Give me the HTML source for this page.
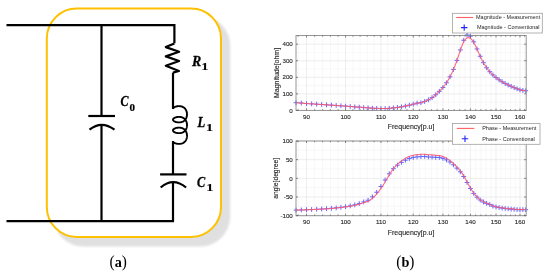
<!DOCTYPE html>
<html><head><meta charset="utf-8"><title>Figure</title>
<style>html,body{margin:0;padding:0;background:#fff;} svg{display:block;}</style>
</head><body>
<svg width="550" height="274" viewBox="0 0 550 274">
<rect width="550" height="274" fill="#fff"/>
<filter id="sh" x="-0.1" y="-0.1" width="1.2" height="1.2"><feGaussianBlur stdDeviation="0.85"/></filter>
<rect x="53.2" y="15.8" width="177.0" height="230.8" rx="30" fill="#e0e0e0" filter="url(#sh)"/>
<rect x="46.8" y="8.6" width="174.2" height="228.3" rx="30" fill="#fff" stroke="#ffc000" stroke-width="2"/>
<path d="M6.5 25.1 H174.4 V43.2" stroke="#000" stroke-width="2.2" fill="none" stroke-linejoin="miter"/>
<path d="M174.4 43.4 L165.8 47.1 L179.1 51.8 L165.8 56.4 L179.1 61 L165.8 65.7 L178.9 71 L173 72.6" stroke="#000" stroke-width="2.2" fill="none" stroke-linejoin="round"/>
<path d="M173.0 72.6 V108.90" stroke="#000" stroke-width="2.2" fill="none"/>
<path d="M173.00 108.90 L173.01 108.72 L173.06 108.54 L173.12 108.36 L173.22 108.18 L173.34 108.00 L173.49 107.83 L173.67 107.66 L173.87 107.50 L174.09 107.35 L174.34 107.19 L174.61 107.05 L174.90 106.92 L175.21 106.79 L175.54 106.67 L175.89 106.56 L176.25 106.46 L176.63 106.37 L177.03 106.30 L177.43 106.23 L177.84 106.19 L178.27 106.15 L178.70 106.13 L179.13 106.13 L179.57 106.15 L180.01 106.18 L180.45 106.23 L180.89 106.31 L181.32 106.40 L181.75 106.52 L182.17 106.66 L182.59 106.83 L182.99 107.02 L183.38 107.23 L183.76 107.48 L184.12 107.74 L184.47 108.04 L184.80 108.35 L185.11 108.70 L185.40 109.07 L185.67 109.46 L185.92 109.87 L186.14 110.31 L186.34 110.76 L186.51 111.23 L186.66 111.72 L186.78 112.22 L186.88 112.73 L186.95 113.25 L186.99 113.77 L187.00 114.30 L186.98 114.82 L186.94 115.35 L186.87 115.86 L186.78 116.37 L186.65 116.87 L186.50 117.36 L186.32 117.83 L186.12 118.28 L185.90 118.71 L185.65 119.13 L185.38 119.52 L185.09 119.88 L184.77 120.22 L184.44 120.54 L184.10 120.83 L183.73 121.10 L183.35 121.34 L182.96 121.55 L182.55 121.74 L182.14 121.90 L181.72 122.04 L181.29 122.16 L180.85 122.25 L180.41 122.32 L179.97 122.37 L179.53 122.41 L179.09 122.42 L178.66 122.42 L178.23 122.40 L177.81 122.36 L177.40 122.31 L176.99 122.25 L176.60 122.17 L176.22 122.08 L175.86 121.98 L175.51 121.87 L175.18 121.75 L174.88 121.62 L174.59 121.49 L174.32 121.34 L174.07 121.19 L173.85 121.03 L173.65 120.87 L173.48 120.70 L173.33 120.53 L173.21 120.36 L173.12 120.18 L173.05 120.00 L173.01 119.82 L173.00 119.63 L173.02 119.45 L173.06 119.27 L173.13 119.09 L173.23 118.91 L173.35 118.74 L173.51 118.57 L173.68 118.40 L173.89 118.24 L174.11 118.08 L174.36 117.93 L174.63 117.79 L174.93 117.65 L175.24 117.53 L175.57 117.41 L175.92 117.30 L176.29 117.20 L176.67 117.12 L177.06 117.04 L177.46 116.98 L177.88 116.93 L178.30 116.90 L178.73 116.88 L179.17 116.88 L179.61 116.90 L180.05 116.93 L180.49 116.99 L180.92 117.06 L181.36 117.16 L181.79 117.28 L182.21 117.42 L182.62 117.59 L183.02 117.79 L183.41 118.00 L183.79 118.25 L184.15 118.52 L184.50 118.81 L184.83 119.13 L185.14 119.48 L185.43 119.85 L185.69 120.24 L185.94 120.66 L186.16 121.09 L186.36 121.55 L186.53 122.02 L186.67 122.51 L186.79 123.01 L186.89 123.52 L186.95 124.04 L186.99 124.56 L187.00 125.09 L186.98 125.62 L186.94 126.14 L186.87 126.66 L186.77 127.17 L186.64 127.66 L186.49 128.15 L186.31 128.62 L186.11 129.07 L185.88 129.50 L185.63 129.91 L185.36 130.30 L185.06 130.66 L184.75 131.00 L184.42 131.31 L184.07 131.60 L183.70 131.87 L183.32 132.10 L182.92 132.32 L182.52 132.50 L182.10 132.66 L181.68 132.80 L181.25 132.92 L180.81 133.01 L180.38 133.08 L179.94 133.13 L179.50 133.16 L179.06 133.17 L178.62 133.17 L178.20 133.14 L177.77 133.11 L177.36 133.06 L176.96 132.99 L176.57 132.91 L176.19 132.82 L175.83 132.72 L175.49 132.61 L175.16 132.49 L174.85 132.36 L174.56 132.23 L174.30 132.08 L174.05 131.93 L173.83 131.77 L173.64 131.61 L173.47 131.44 L173.32 131.27 L173.20 131.09 L173.11 130.91 L173.05 130.73 L173.01 130.55 L173.00 130.37 L173.02 130.19 L173.06 130.01 L173.14 129.83 L173.24 129.65 L173.37 129.47 L173.52 129.30 L173.70 129.14 L173.90 128.98 L174.13 128.82 L174.38 128.67 L174.66 128.53 L174.95 128.39 L175.27 128.27 L175.60 128.15 L175.95 128.04 L176.32 127.95 L176.70 127.86 L177.09 127.79 L177.50 127.73 L177.91 127.68 L178.34 127.65 L178.77 127.63 L179.20 127.63 L179.64 127.65 L180.08 127.69 L180.52 127.74 L180.96 127.82 L181.39 127.92 L181.82 128.04 L182.24 128.19 L182.66 128.36 L183.06 128.55 L183.45 128.77 L183.82 129.02 L184.18 129.29 L184.53 129.59 L184.85 129.91 L185.16 130.26 L185.45 130.63 L185.71 131.03 L185.96 131.44 L186.18 131.88 L186.37 132.34 L186.54 132.81 L186.68 133.30 L186.80 133.80 L186.89 134.31 L186.96 134.83 L186.99 135.36 L187.00 135.88 L186.98 136.41 L186.93 136.93 L186.86 137.45 L186.76 137.96 L186.63 138.45 L186.47 138.94 L186.29 139.40 L186.09 139.85 L185.86 140.28 L185.61 140.69 L185.33 141.08 L185.04 141.44 L184.72 141.78 L184.39 142.09 L184.04 142.38 L183.67 142.64 L183.29 142.87 L182.89 143.08 L182.48 143.27 L182.07 143.43 L181.64 143.56 L181.21 143.67 L180.78 143.76 L180.34 143.83 L179.90 143.88 L179.46 143.91 L179.02 143.92 L178.59 143.91 L178.16 143.89 L177.74 143.85 L177.33 143.80 L176.93 143.73 L176.54 143.66 L176.16 143.57 L175.80 143.46 L175.46 143.35 L175.13 143.23 L174.83 143.10 L174.54 142.96 L174.28 142.82 L174.03 142.67 L173.81 142.51 L173.62 142.34 L173.45 142.18 L173.31 142.00 L173.19 141.83 L173.10 141.65 L173.04 141.47 L173.01 141.29 L173.00 141.15" stroke="#000" stroke-width="1.9" fill="none" stroke-linejoin="round"/>
<path d="M173.0 141.15 V174" stroke="#000" stroke-width="2.2" fill="none"/>
<path d="M160.1 174.4 H186.5" stroke="#000" stroke-width="2.2" fill="none"/>
<path d="M160.7 187.5 Q173.0 176.7 186.1 187.5" stroke="#000" stroke-width="2.2" fill="none"/>
<path d="M173.0 182.1 V221.2 H6.5" stroke="#000" stroke-width="2.2" fill="none"/>
<path d="M101.5 25.1 V116" stroke="#000" stroke-width="2.2" fill="none"/>
<path d="M88.3 116 H115" stroke="#000" stroke-width="2.2" fill="none"/>
<path d="M89.5 129.7 Q101.5 119.9 114.5 129.7" stroke="#000" stroke-width="2.2" fill="none"/>
<path d="M101.5 124.8 V221.2" stroke="#000" stroke-width="2.2" fill="none"/>
<text transform="translate(120.4 106.0) scale(0.88 1)" font-family="Liberation Serif, serif" font-weight="bold" font-size="13.6" font-style="italic" stroke="#000" stroke-width="0.3">C</text><text transform="translate(129.6 110.6) scale(1.0 1)" font-family="Liberation Serif, serif" font-weight="bold" font-size="11" stroke="#000" stroke-width="0.2">0</text>
<text transform="translate(191.9 65.8) scale(1.0 1)" font-family="Liberation Serif, serif" font-weight="bold" font-size="13.8" font-style="italic" stroke="#000" stroke-width="0.3">R</text><text transform="translate(201.6 69.8) scale(1.22 1)" font-family="Liberation Serif, serif" font-weight="bold" font-size="11" stroke="#000" stroke-width="0.2">1</text>
<text transform="translate(197.6 127.4) scale(0.9 1)" font-family="Liberation Serif, serif" font-weight="bold" font-size="14" font-style="italic" stroke="#000" stroke-width="0.3">L</text><text transform="translate(206.3 130.8) scale(1.22 1)" font-family="Liberation Serif, serif" font-weight="bold" font-size="11" stroke="#000" stroke-width="0.2">1</text>
<text transform="translate(197.1 187.2) scale(0.88 1)" font-family="Liberation Serif, serif" font-weight="bold" font-size="14.0" font-style="italic" stroke="#000" stroke-width="0.3">C</text><text transform="translate(206.5 190.8) scale(1.22 1)" font-family="Liberation Serif, serif" font-weight="bold" font-size="11" stroke="#000" stroke-width="0.2">1</text>
<text x="118.2" y="266.6" font-family="Liberation Serif, serif" font-size="15" text-anchor="middle" transform="translate(118.2 0) scale(0.95 1) translate(-118.2 0)"><tspan font-size="16.2" dy="0.2">(</tspan><tspan font-weight="bold" dy="-0.2">a</tspan><tspan font-size="16.2" dy="0.2">)</tspan></text>
<text x="405.4" y="266.6" font-family="Liberation Serif, serif" font-size="15" text-anchor="middle" transform="translate(405.4 0) scale(0.95 1) translate(-405.4 0)"><tspan font-size="16.2" dy="0.2">(</tspan><tspan font-weight="bold" dy="-0.2">b</tspan><tspan font-size="16.2" dy="0.2">)</tspan></text>
<clipPath id="clip35"><rect x="296.0" y="35.5" width="230.20000000000005" height="74.9"/></clipPath>
<line x1="298.16" y1="35.5" x2="298.16" y2="110.4" stroke="#f3f3f3" stroke-width="0.6"/>
<line x1="314.65" y1="35.5" x2="314.65" y2="110.4" stroke="#f3f3f3" stroke-width="0.6"/>
<line x1="322.63" y1="35.5" x2="322.63" y2="110.4" stroke="#f3f3f3" stroke-width="0.6"/>
<line x1="330.44" y1="35.5" x2="330.44" y2="110.4" stroke="#f3f3f3" stroke-width="0.6"/>
<line x1="338.09" y1="35.5" x2="338.09" y2="110.4" stroke="#f3f3f3" stroke-width="0.6"/>
<line x1="352.94" y1="35.5" x2="352.94" y2="110.4" stroke="#f3f3f3" stroke-width="0.6"/>
<line x1="360.14" y1="35.5" x2="360.14" y2="110.4" stroke="#f3f3f3" stroke-width="0.6"/>
<line x1="367.21" y1="35.5" x2="367.21" y2="110.4" stroke="#f3f3f3" stroke-width="0.6"/>
<line x1="374.14" y1="35.5" x2="374.14" y2="110.4" stroke="#f3f3f3" stroke-width="0.6"/>
<line x1="387.63" y1="35.5" x2="387.63" y2="110.4" stroke="#f3f3f3" stroke-width="0.6"/>
<line x1="394.20" y1="35.5" x2="394.20" y2="110.4" stroke="#f3f3f3" stroke-width="0.6"/>
<line x1="400.65" y1="35.5" x2="400.65" y2="110.4" stroke="#f3f3f3" stroke-width="0.6"/>
<line x1="406.99" y1="35.5" x2="406.99" y2="110.4" stroke="#f3f3f3" stroke-width="0.6"/>
<line x1="419.36" y1="35.5" x2="419.36" y2="110.4" stroke="#f3f3f3" stroke-width="0.6"/>
<line x1="425.40" y1="35.5" x2="425.40" y2="110.4" stroke="#f3f3f3" stroke-width="0.6"/>
<line x1="431.33" y1="35.5" x2="431.33" y2="110.4" stroke="#f3f3f3" stroke-width="0.6"/>
<line x1="437.17" y1="35.5" x2="437.17" y2="110.4" stroke="#f3f3f3" stroke-width="0.6"/>
<line x1="448.59" y1="35.5" x2="448.59" y2="110.4" stroke="#f3f3f3" stroke-width="0.6"/>
<line x1="454.17" y1="35.5" x2="454.17" y2="110.4" stroke="#f3f3f3" stroke-width="0.6"/>
<line x1="459.67" y1="35.5" x2="459.67" y2="110.4" stroke="#f3f3f3" stroke-width="0.6"/>
<line x1="465.08" y1="35.5" x2="465.08" y2="110.4" stroke="#f3f3f3" stroke-width="0.6"/>
<line x1="475.68" y1="35.5" x2="475.68" y2="110.4" stroke="#f3f3f3" stroke-width="0.6"/>
<line x1="480.87" y1="35.5" x2="480.87" y2="110.4" stroke="#f3f3f3" stroke-width="0.6"/>
<line x1="485.99" y1="35.5" x2="485.99" y2="110.4" stroke="#f3f3f3" stroke-width="0.6"/>
<line x1="491.04" y1="35.5" x2="491.04" y2="110.4" stroke="#f3f3f3" stroke-width="0.6"/>
<line x1="500.93" y1="35.5" x2="500.93" y2="110.4" stroke="#f3f3f3" stroke-width="0.6"/>
<line x1="505.78" y1="35.5" x2="505.78" y2="110.4" stroke="#f3f3f3" stroke-width="0.6"/>
<line x1="510.57" y1="35.5" x2="510.57" y2="110.4" stroke="#f3f3f3" stroke-width="0.6"/>
<line x1="515.29" y1="35.5" x2="515.29" y2="110.4" stroke="#f3f3f3" stroke-width="0.6"/>
<line x1="524.57" y1="35.5" x2="524.57" y2="110.4" stroke="#f3f3f3" stroke-width="0.6"/>
<line x1="296.0" y1="102.12" x2="526.2" y2="102.12" stroke="#f3f3f3" stroke-width="0.6"/>
<line x1="296.0" y1="85.58" x2="526.2" y2="85.58" stroke="#f3f3f3" stroke-width="0.6"/>
<line x1="296.0" y1="69.03" x2="526.2" y2="69.03" stroke="#f3f3f3" stroke-width="0.6"/>
<line x1="296.0" y1="52.48" x2="526.2" y2="52.48" stroke="#f3f3f3" stroke-width="0.6"/>
<line x1="296.0" y1="35.92" x2="526.2" y2="35.92" stroke="#f3f3f3" stroke-width="0.6"/>
<line x1="306.50" y1="35.5" x2="306.50" y2="110.4" stroke="#e6e6e6" stroke-width="0.7"/>
<line x1="345.59" y1="35.5" x2="345.59" y2="110.4" stroke="#e6e6e6" stroke-width="0.7"/>
<line x1="380.95" y1="35.5" x2="380.95" y2="110.4" stroke="#e6e6e6" stroke-width="0.7"/>
<line x1="413.23" y1="35.5" x2="413.23" y2="110.4" stroke="#e6e6e6" stroke-width="0.7"/>
<line x1="442.93" y1="35.5" x2="442.93" y2="110.4" stroke="#e6e6e6" stroke-width="0.7"/>
<line x1="470.42" y1="35.5" x2="470.42" y2="110.4" stroke="#e6e6e6" stroke-width="0.7"/>
<line x1="496.02" y1="35.5" x2="496.02" y2="110.4" stroke="#e6e6e6" stroke-width="0.7"/>
<line x1="519.96" y1="35.5" x2="519.96" y2="110.4" stroke="#e6e6e6" stroke-width="0.7"/>
<line x1="296.0" y1="110.40" x2="526.2" y2="110.40" stroke="#e6e6e6" stroke-width="0.7"/>
<line x1="296.0" y1="93.85" x2="526.2" y2="93.85" stroke="#e6e6e6" stroke-width="0.7"/>
<line x1="296.0" y1="77.30" x2="526.2" y2="77.30" stroke="#e6e6e6" stroke-width="0.7"/>
<line x1="296.0" y1="60.75" x2="526.2" y2="60.75" stroke="#e6e6e6" stroke-width="0.7"/>
<line x1="296.0" y1="44.20" x2="526.2" y2="44.20" stroke="#e6e6e6" stroke-width="0.7"/>
<path d="M293.65 102.70h4.8M296.05 100.30v4.8M298.91 103.04h4.8M301.31 100.64v4.8M304.10 103.54h4.8M306.50 101.14v4.8M309.22 103.87h4.8M311.62 101.47v4.8M314.27 104.19h4.8M316.67 101.79v4.8M319.24 104.50h4.8M321.64 102.10v4.8M324.16 104.82h4.8M326.56 102.42v4.8M329.01 105.14h4.8M331.41 102.74v4.8M333.80 105.47h4.8M336.20 103.07v4.8M338.52 105.80h4.8M340.92 103.40v4.8M343.19 106.14h4.8M345.59 103.74v4.8M347.80 106.49h4.8M350.20 104.09v4.8M352.35 106.83h4.8M354.75 104.43v4.8M356.85 107.18h4.8M359.25 104.78v4.8M361.29 107.53h4.8M363.69 105.13v4.8M365.68 107.86h4.8M368.08 105.46v4.8M370.02 108.16h4.8M372.42 105.76v4.8M374.31 108.40h4.8M376.71 106.00v4.8M378.55 108.52h4.8M380.95 106.12v4.8M382.74 108.50h4.8M385.14 106.10v4.8M386.89 108.30h4.8M389.29 105.90v4.8M390.99 107.95h4.8M393.39 105.55v4.8M395.04 107.43h4.8M397.44 105.03v4.8M399.05 106.80h4.8M401.45 104.40v4.8M403.02 106.04h4.8M405.42 103.64v4.8M406.95 105.18h4.8M409.35 102.78v4.8M410.83 104.19h4.8M413.23 101.79v4.8M414.67 103.14h4.8M417.07 100.74v4.8M418.48 102.78h4.8M420.88 100.38v4.8M422.25 101.46h4.8M424.65 99.06v4.8M425.98 99.84h4.8M428.38 97.44v4.8M429.67 97.62h4.8M432.07 95.22v4.8M433.32 94.74h4.8M435.72 92.34v4.8M436.94 91.34h4.8M439.34 88.94v4.8M440.53 87.47h4.8M442.93 85.07v4.8M444.08 82.79h4.8M446.48 80.39v4.8M447.59 76.80h4.8M449.99 74.40v4.8M451.08 69.41h4.8M453.48 67.01v4.8M454.53 60.42h4.8M456.93 58.02v4.8M457.95 49.96h4.8M460.35 47.56v4.8M461.34 40.26h4.8M463.74 37.86v4.8M464.69 34.97h4.8M467.09 32.57v4.8M468.02 36.16h4.8M470.42 33.76v4.8M471.32 41.84h4.8M473.72 39.44v4.8M474.59 48.94h4.8M476.99 46.54v4.8M477.83 56.28h4.8M480.23 53.88v4.8M481.04 62.69h4.8M483.44 60.29v4.8M484.22 67.76h4.8M486.62 65.36v4.8M487.38 71.71h4.8M489.78 69.31v4.8M490.51 74.91h4.8M492.91 72.51v4.8M493.62 77.53h4.8M496.02 75.13v4.8M496.70 79.79h4.8M499.10 77.39v4.8M499.75 81.79h4.8M502.15 79.39v4.8M502.78 83.52h4.8M505.18 81.12v4.8M505.78 84.96h4.8M508.18 82.56v4.8M508.76 86.32h4.8M511.16 83.92v4.8M511.72 87.65h4.8M514.12 85.25v4.8M514.65 88.82h4.8M517.05 86.42v4.8M517.56 89.86h4.8M519.96 87.46v4.8M520.45 90.40h4.8M522.85 88.00v4.8M523.31 90.74h4.8M525.71 88.34v4.8" stroke="#6060ff" stroke-width="0.95" fill="none"/>
<g clip-path="url(#clip35)">
<path d="M296.05 102.70 L296.58 102.74 L297.11 102.77 L297.64 102.80 L298.17 102.83 L298.70 102.86 L299.22 102.89 L299.75 102.93 L300.28 102.96 L300.80 102.99 L301.33 103.04 L301.85 103.11 L302.37 103.17 L302.90 103.23 L303.42 103.28 L303.94 103.33 L304.46 103.38 L304.98 103.43 L305.50 103.47 L306.01 103.51 L306.53 103.55 L307.05 103.58 L307.56 103.62 L308.08 103.65 L308.59 103.68 L309.11 103.72 L309.62 103.75 L310.13 103.78 L310.64 103.81 L311.15 103.84 L311.66 103.88 L312.17 103.91 L312.68 103.94 L313.19 103.97 L313.70 104.00 L314.20 104.03 L314.71 104.06 L315.21 104.09 L315.72 104.13 L316.22 104.16 L316.73 104.19 L317.23 104.22 L317.73 104.25 L318.23 104.28 L318.73 104.32 L319.23 104.35 L319.73 104.38 L320.23 104.41 L320.73 104.44 L321.22 104.47 L321.72 104.51 L322.21 104.54 L322.71 104.57 L323.20 104.60 L323.70 104.63 L324.19 104.66 L324.68 104.70 L325.18 104.73 L325.67 104.76 L326.16 104.79 L326.65 104.83 L327.14 104.86 L327.62 104.89 L328.11 104.92 L328.60 104.95 L329.09 104.99 L329.57 105.02 L330.06 105.05 L330.54 105.08 L331.03 105.12 L331.51 105.15 L331.99 105.18 L332.48 105.22 L332.96 105.25 L333.44 105.28 L333.92 105.31 L334.40 105.35 L334.88 105.38 L335.36 105.41 L335.83 105.45 L336.31 105.48 L336.79 105.51 L337.26 105.55 L337.74 105.58 L338.21 105.61 L338.69 105.65 L339.16 105.68 L339.63 105.71 L340.11 105.75 L340.58 105.78 L341.05 105.81 L341.52 105.85 L341.99 105.88 L342.46 105.92 L342.93 105.95 L343.40 105.98 L343.86 106.02 L344.33 106.05 L344.80 106.09 L345.26 106.12 L345.73 106.15 L346.19 106.19 L346.66 106.22 L347.12 106.26 L347.58 106.29 L348.05 106.33 L348.51 106.36 L348.97 106.39 L349.43 106.43 L349.89 106.46 L350.35 106.50 L350.81 106.53 L351.27 106.57 L351.72 106.60 L352.18 106.64 L352.64 106.67 L353.09 106.71 L353.55 106.74 L354.00 106.78 L354.46 106.81 L354.91 106.85 L355.37 106.88 L355.82 106.92 L356.27 106.95 L356.72 106.99 L357.17 107.02 L357.62 107.06 L358.07 107.09 L358.52 107.13 L358.97 107.16 L359.42 107.19 L359.87 107.23 L360.32 107.26 L360.76 107.30 L361.21 107.33 L361.66 107.37 L362.10 107.40 L362.54 107.44 L362.99 107.47 L363.43 107.51 L363.88 107.54 L364.32 107.57 L364.76 107.61 L365.20 107.64 L365.64 107.67 L366.08 107.71 L366.52 107.74 L366.96 107.77 L367.40 107.81 L367.84 107.84 L368.28 107.87 L368.71 107.90 L369.15 107.93 L369.59 107.97 L370.02 108.00 L370.46 108.03 L370.89 108.06 L371.33 108.09 L371.76 108.11 L372.19 108.14 L372.63 108.17 L373.06 108.20 L373.49 108.22 L373.92 108.25 L374.35 108.28 L374.78 108.30 L375.21 108.32 L375.64 108.35 L376.07 108.37 L376.50 108.39 L376.93 108.41 L377.35 108.43 L377.78 108.44 L378.21 108.46 L378.63 108.47 L379.06 108.48 L379.48 108.49 L379.91 108.50 L380.33 108.51 L380.75 108.51 L381.18 108.52 L381.60 108.52 L382.02 108.53 L382.44 108.53 L382.86 108.53 L383.28 108.53 L383.70 108.52 L384.12 108.52 L384.54 108.51 L384.96 108.50 L385.38 108.49 L385.80 108.48 L386.21 108.46 L386.63 108.45 L387.05 108.43 L387.46 108.41 L387.88 108.38 L388.29 108.36 L388.71 108.33 L389.12 108.31 L389.53 108.28 L389.95 108.25 L390.36 108.23 L390.77 108.19 L391.18 108.16 L391.59 108.12 L392.00 108.09 L392.42 108.05 L392.82 108.01 L393.23 107.96 L393.64 107.92 L394.05 107.87 L394.46 107.83 L394.87 107.78 L395.27 107.73 L395.68 107.68 L396.09 107.62 L396.49 107.57 L396.90 107.51 L397.30 107.45 L397.71 107.40 L398.11 107.34 L398.51 107.28 L398.92 107.21 L399.32 107.15 L399.72 107.09 L400.12 107.02 L400.53 106.95 L400.93 106.89 L401.33 106.82 L401.73 106.75 L402.13 106.68 L402.53 106.60 L402.92 106.53 L403.32 106.46 L403.72 106.38 L404.12 106.30 L404.52 106.23 L404.91 106.15 L405.31 106.07 L405.70 105.98 L406.10 105.90 L406.49 105.82 L406.89 105.73 L407.28 105.65 L407.68 105.56 L408.07 105.47 L408.46 105.38 L408.85 105.29 L409.25 105.20 L409.64 105.11 L410.03 105.01 L410.42 104.92 L410.81 104.82 L411.20 104.72 L411.59 104.62 L411.98 104.52 L412.37 104.42 L412.76 104.32 L413.14 104.21 L413.53 104.11 L413.92 104.00 L414.31 103.90 L414.69 103.79 L415.08 103.68 L415.46 103.57 L415.85 103.47 L416.23 103.36 L416.62 103.26 L417.00 103.16 L417.38 103.07 L417.77 102.99 L418.15 102.91 L418.53 102.85 L418.91 102.79 L419.30 102.76 L419.68 102.74 L420.06 102.73 L420.44 102.75 L420.82 102.78 L421.20 102.67 L421.58 102.55 L421.96 102.42 L422.33 102.30 L422.71 102.17 L423.09 102.03 L423.47 101.90 L423.84 101.76 L424.22 101.62 L424.60 101.48 L424.97 101.34 L425.35 101.19 L425.72 101.04 L426.10 100.88 L426.47 100.72 L426.85 100.56 L427.22 100.39 L427.59 100.22 L427.97 100.04 L428.34 99.86 L428.71 99.67 L429.08 99.47 L429.45 99.27 L429.82 99.05 L430.19 98.84 L430.56 98.61 L430.93 98.38 L431.30 98.14 L431.67 97.89 L432.04 97.64 L432.41 97.38 L432.78 97.11 L433.14 96.84 L433.51 96.56 L433.88 96.28 L434.24 95.98 L434.61 95.69 L434.98 95.38 L435.34 95.07 L435.71 94.76 L436.07 94.44 L436.44 94.11 L436.80 93.78 L437.16 93.45 L437.53 93.11 L437.89 92.77 L438.25 92.42 L438.61 92.06 L438.98 91.71 L439.34 91.35 L439.70 90.98 L440.06 90.61 L440.42 90.23 L440.78 89.85 L441.14 89.47 L441.50 89.08 L441.86 88.68 L442.22 88.28 L442.57 87.87 L442.93 87.46 L443.29 87.03 L443.65 86.60 L444.00 86.16 L444.36 85.71 L444.72 85.25 L445.07 84.78 L445.43 84.30 L445.78 83.80 L446.14 83.29 L446.49 82.77 L446.85 82.23 L447.20 81.68 L447.55 81.11 L447.91 80.53 L448.26 79.94 L448.61 79.33 L448.97 78.70 L449.32 78.06 L449.67 77.41 L450.02 76.75 L450.37 76.07 L450.72 75.37 L451.07 74.67 L451.42 73.95 L451.77 73.21 L452.12 72.47 L452.47 71.70 L452.82 70.93 L453.17 70.13 L453.51 69.33 L453.86 68.50 L454.21 67.66 L454.56 66.80 L454.90 65.93 L455.25 65.03 L455.59 64.12 L455.94 63.19 L456.29 62.25 L456.63 61.28 L456.98 60.30 L457.32 59.31 L457.66 58.30 L458.01 57.28 L458.35 56.24 L458.69 55.21 L459.04 54.17 L459.38 53.13 L459.72 52.09 L460.06 51.06 L460.40 50.05 L460.75 49.05 L461.09 48.07 L461.43 47.13 L461.77 46.21 L462.11 45.33 L462.45 44.49 L462.79 43.69 L463.13 42.94 L463.46 42.23 L463.80 41.58 L464.14 40.98 L464.48 40.44 L464.82 39.95 L465.15 39.51 L465.49 39.12 L465.83 38.78 L466.16 38.50 L466.50 38.25 L466.83 38.06 L467.17 37.90 L467.50 37.79 L467.84 37.71 L468.17 37.67 L468.51 37.67 L468.84 37.70 L469.17 37.77 L469.51 37.88 L469.84 38.02 L470.17 38.21 L470.51 38.43 L470.84 38.69 L471.17 38.99 L471.50 39.32 L471.83 39.69 L472.16 40.10 L472.49 40.55 L472.82 41.02 L473.15 41.53 L473.48 42.06 L473.81 42.62 L474.14 43.20 L474.47 43.81 L474.80 44.43 L475.13 45.07 L475.46 45.73 L475.78 46.41 L476.11 47.10 L476.44 47.80 L476.76 48.51 L477.09 49.23 L477.42 49.96 L477.74 50.70 L478.07 51.44 L478.39 52.18 L478.72 52.91 L479.04 53.65 L479.37 54.38 L479.69 55.11 L480.02 55.82 L480.34 56.53 L480.66 57.22 L480.99 57.91 L481.31 58.58 L481.63 59.24 L481.95 59.88 L482.28 60.51 L482.60 61.13 L482.92 61.74 L483.24 62.33 L483.56 62.90 L483.88 63.47 L484.20 64.01 L484.52 64.55 L484.84 65.07 L485.16 65.58 L485.48 66.08 L485.80 66.56 L486.12 67.03 L486.44 67.49 L486.75 67.94 L487.07 68.37 L487.39 68.80 L487.71 69.21 L488.02 69.62 L488.34 70.01 L488.66 70.40 L488.97 70.78 L489.29 71.15 L489.60 71.51 L489.92 71.87 L490.23 72.22 L490.55 72.56 L490.86 72.89 L491.18 73.22 L491.49 73.54 L491.81 73.85 L492.12 74.16 L492.43 74.46 L492.75 74.76 L493.06 75.05 L493.37 75.33 L493.68 75.61 L493.99 75.88 L494.31 76.14 L494.62 76.40 L494.93 76.66 L495.24 76.91 L495.55 77.16 L495.86 77.41 L496.17 77.65 L496.48 77.89 L496.79 78.12 L497.10 78.35 L497.41 78.58 L497.72 78.81 L498.03 79.04 L498.33 79.26 L498.64 79.48 L498.95 79.69 L499.26 79.91 L499.56 80.12 L499.87 80.33 L500.18 80.53 L500.49 80.73 L500.79 80.93 L501.10 81.13 L501.40 81.33 L501.71 81.52 L502.01 81.71 L502.32 81.90 L502.62 82.08 L502.93 82.27 L503.23 82.44 L503.54 82.62 L503.84 82.79 L504.14 82.96 L504.45 83.13 L504.75 83.29 L505.05 83.45 L505.36 83.61 L505.66 83.77 L505.96 83.92 L506.26 84.06 L506.56 84.21 L506.86 84.35 L507.16 84.49 L507.47 84.63 L507.77 84.77 L508.07 84.91 L508.37 85.05 L508.67 85.18 L508.97 85.32 L509.27 85.45 L509.56 85.59 L509.86 85.73 L510.16 85.86 L510.46 86.00 L510.76 86.14 L511.06 86.28 L511.35 86.41 L511.65 86.55 L511.95 86.69 L512.25 86.82 L512.54 86.96 L512.84 87.09 L513.14 87.22 L513.43 87.35 L513.73 87.48 L514.02 87.61 L514.32 87.73 L514.61 87.85 L514.91 87.97 L515.20 88.09 L515.50 88.21 L515.79 88.33 L516.08 88.44 L516.38 88.56 L516.67 88.67 L516.96 88.78 L517.26 88.89 L517.55 89.01 L517.84 89.12 L518.14 89.23 L518.43 89.34 L518.72 89.44 L519.01 89.55 L519.30 89.65 L519.59 89.75 L519.88 89.84 L520.17 89.93 L520.46 90.01 L520.76 90.09 L521.05 90.16 L521.33 90.22 L521.62 90.27 L521.91 90.32 L522.20 90.35 L522.49 90.37 L522.78 90.39 L523.07 90.41 L523.36 90.42 L523.64 90.44 L523.93 90.46 L524.22 90.49 L524.51 90.53 L524.79 90.57 L525.08 90.62 L525.37 90.67 L525.65 90.73 L525.94 90.78" fill="none" stroke="#ff5a6e" stroke-width="1.1" stroke-opacity="0.9"/>
</g>
<rect x="296.0" y="35.5" width="230.20000000000005" height="74.9" fill="none" stroke="#8a8a8a" stroke-width="0.9"/>
<line x1="306.50" y1="110.4" x2="306.50" y2="108.4" stroke="#555" stroke-width="0.7"/>
<line x1="306.50" y1="35.5" x2="306.50" y2="37.5" stroke="#555" stroke-width="0.7"/>
<line x1="345.59" y1="110.4" x2="345.59" y2="108.4" stroke="#555" stroke-width="0.7"/>
<line x1="345.59" y1="35.5" x2="345.59" y2="37.5" stroke="#555" stroke-width="0.7"/>
<line x1="380.95" y1="110.4" x2="380.95" y2="108.4" stroke="#555" stroke-width="0.7"/>
<line x1="380.95" y1="35.5" x2="380.95" y2="37.5" stroke="#555" stroke-width="0.7"/>
<line x1="413.23" y1="110.4" x2="413.23" y2="108.4" stroke="#555" stroke-width="0.7"/>
<line x1="413.23" y1="35.5" x2="413.23" y2="37.5" stroke="#555" stroke-width="0.7"/>
<line x1="442.93" y1="110.4" x2="442.93" y2="108.4" stroke="#555" stroke-width="0.7"/>
<line x1="442.93" y1="35.5" x2="442.93" y2="37.5" stroke="#555" stroke-width="0.7"/>
<line x1="470.42" y1="110.4" x2="470.42" y2="108.4" stroke="#555" stroke-width="0.7"/>
<line x1="470.42" y1="35.5" x2="470.42" y2="37.5" stroke="#555" stroke-width="0.7"/>
<line x1="496.02" y1="110.4" x2="496.02" y2="108.4" stroke="#555" stroke-width="0.7"/>
<line x1="496.02" y1="35.5" x2="496.02" y2="37.5" stroke="#555" stroke-width="0.7"/>
<line x1="519.96" y1="110.4" x2="519.96" y2="108.4" stroke="#555" stroke-width="0.7"/>
<line x1="519.96" y1="35.5" x2="519.96" y2="37.5" stroke="#555" stroke-width="0.7"/>
<line x1="298.16" y1="110.4" x2="298.16" y2="109.2" stroke="#555" stroke-width="0.7"/>
<line x1="298.16" y1="35.5" x2="298.16" y2="36.7" stroke="#555" stroke-width="0.7"/>
<line x1="314.65" y1="110.4" x2="314.65" y2="109.2" stroke="#555" stroke-width="0.7"/>
<line x1="314.65" y1="35.5" x2="314.65" y2="36.7" stroke="#555" stroke-width="0.7"/>
<line x1="322.63" y1="110.4" x2="322.63" y2="109.2" stroke="#555" stroke-width="0.7"/>
<line x1="322.63" y1="35.5" x2="322.63" y2="36.7" stroke="#555" stroke-width="0.7"/>
<line x1="330.44" y1="110.4" x2="330.44" y2="109.2" stroke="#555" stroke-width="0.7"/>
<line x1="330.44" y1="35.5" x2="330.44" y2="36.7" stroke="#555" stroke-width="0.7"/>
<line x1="338.09" y1="110.4" x2="338.09" y2="109.2" stroke="#555" stroke-width="0.7"/>
<line x1="338.09" y1="35.5" x2="338.09" y2="36.7" stroke="#555" stroke-width="0.7"/>
<line x1="352.94" y1="110.4" x2="352.94" y2="109.2" stroke="#555" stroke-width="0.7"/>
<line x1="352.94" y1="35.5" x2="352.94" y2="36.7" stroke="#555" stroke-width="0.7"/>
<line x1="360.14" y1="110.4" x2="360.14" y2="109.2" stroke="#555" stroke-width="0.7"/>
<line x1="360.14" y1="35.5" x2="360.14" y2="36.7" stroke="#555" stroke-width="0.7"/>
<line x1="367.21" y1="110.4" x2="367.21" y2="109.2" stroke="#555" stroke-width="0.7"/>
<line x1="367.21" y1="35.5" x2="367.21" y2="36.7" stroke="#555" stroke-width="0.7"/>
<line x1="374.14" y1="110.4" x2="374.14" y2="109.2" stroke="#555" stroke-width="0.7"/>
<line x1="374.14" y1="35.5" x2="374.14" y2="36.7" stroke="#555" stroke-width="0.7"/>
<line x1="387.63" y1="110.4" x2="387.63" y2="109.2" stroke="#555" stroke-width="0.7"/>
<line x1="387.63" y1="35.5" x2="387.63" y2="36.7" stroke="#555" stroke-width="0.7"/>
<line x1="394.20" y1="110.4" x2="394.20" y2="109.2" stroke="#555" stroke-width="0.7"/>
<line x1="394.20" y1="35.5" x2="394.20" y2="36.7" stroke="#555" stroke-width="0.7"/>
<line x1="400.65" y1="110.4" x2="400.65" y2="109.2" stroke="#555" stroke-width="0.7"/>
<line x1="400.65" y1="35.5" x2="400.65" y2="36.7" stroke="#555" stroke-width="0.7"/>
<line x1="406.99" y1="110.4" x2="406.99" y2="109.2" stroke="#555" stroke-width="0.7"/>
<line x1="406.99" y1="35.5" x2="406.99" y2="36.7" stroke="#555" stroke-width="0.7"/>
<line x1="419.36" y1="110.4" x2="419.36" y2="109.2" stroke="#555" stroke-width="0.7"/>
<line x1="419.36" y1="35.5" x2="419.36" y2="36.7" stroke="#555" stroke-width="0.7"/>
<line x1="425.40" y1="110.4" x2="425.40" y2="109.2" stroke="#555" stroke-width="0.7"/>
<line x1="425.40" y1="35.5" x2="425.40" y2="36.7" stroke="#555" stroke-width="0.7"/>
<line x1="431.33" y1="110.4" x2="431.33" y2="109.2" stroke="#555" stroke-width="0.7"/>
<line x1="431.33" y1="35.5" x2="431.33" y2="36.7" stroke="#555" stroke-width="0.7"/>
<line x1="437.17" y1="110.4" x2="437.17" y2="109.2" stroke="#555" stroke-width="0.7"/>
<line x1="437.17" y1="35.5" x2="437.17" y2="36.7" stroke="#555" stroke-width="0.7"/>
<line x1="448.59" y1="110.4" x2="448.59" y2="109.2" stroke="#555" stroke-width="0.7"/>
<line x1="448.59" y1="35.5" x2="448.59" y2="36.7" stroke="#555" stroke-width="0.7"/>
<line x1="454.17" y1="110.4" x2="454.17" y2="109.2" stroke="#555" stroke-width="0.7"/>
<line x1="454.17" y1="35.5" x2="454.17" y2="36.7" stroke="#555" stroke-width="0.7"/>
<line x1="459.67" y1="110.4" x2="459.67" y2="109.2" stroke="#555" stroke-width="0.7"/>
<line x1="459.67" y1="35.5" x2="459.67" y2="36.7" stroke="#555" stroke-width="0.7"/>
<line x1="465.08" y1="110.4" x2="465.08" y2="109.2" stroke="#555" stroke-width="0.7"/>
<line x1="465.08" y1="35.5" x2="465.08" y2="36.7" stroke="#555" stroke-width="0.7"/>
<line x1="475.68" y1="110.4" x2="475.68" y2="109.2" stroke="#555" stroke-width="0.7"/>
<line x1="475.68" y1="35.5" x2="475.68" y2="36.7" stroke="#555" stroke-width="0.7"/>
<line x1="480.87" y1="110.4" x2="480.87" y2="109.2" stroke="#555" stroke-width="0.7"/>
<line x1="480.87" y1="35.5" x2="480.87" y2="36.7" stroke="#555" stroke-width="0.7"/>
<line x1="485.99" y1="110.4" x2="485.99" y2="109.2" stroke="#555" stroke-width="0.7"/>
<line x1="485.99" y1="35.5" x2="485.99" y2="36.7" stroke="#555" stroke-width="0.7"/>
<line x1="491.04" y1="110.4" x2="491.04" y2="109.2" stroke="#555" stroke-width="0.7"/>
<line x1="491.04" y1="35.5" x2="491.04" y2="36.7" stroke="#555" stroke-width="0.7"/>
<line x1="500.93" y1="110.4" x2="500.93" y2="109.2" stroke="#555" stroke-width="0.7"/>
<line x1="500.93" y1="35.5" x2="500.93" y2="36.7" stroke="#555" stroke-width="0.7"/>
<line x1="505.78" y1="110.4" x2="505.78" y2="109.2" stroke="#555" stroke-width="0.7"/>
<line x1="505.78" y1="35.5" x2="505.78" y2="36.7" stroke="#555" stroke-width="0.7"/>
<line x1="510.57" y1="110.4" x2="510.57" y2="109.2" stroke="#555" stroke-width="0.7"/>
<line x1="510.57" y1="35.5" x2="510.57" y2="36.7" stroke="#555" stroke-width="0.7"/>
<line x1="515.29" y1="110.4" x2="515.29" y2="109.2" stroke="#555" stroke-width="0.7"/>
<line x1="515.29" y1="35.5" x2="515.29" y2="36.7" stroke="#555" stroke-width="0.7"/>
<line x1="524.57" y1="110.4" x2="524.57" y2="109.2" stroke="#555" stroke-width="0.7"/>
<line x1="524.57" y1="35.5" x2="524.57" y2="36.7" stroke="#555" stroke-width="0.7"/>
<line x1="296.0" y1="110.40" x2="298.0" y2="110.40" stroke="#555" stroke-width="0.7"/>
<line x1="526.2" y1="110.40" x2="524.2" y2="110.40" stroke="#555" stroke-width="0.7"/>
<line x1="296.0" y1="93.85" x2="298.0" y2="93.85" stroke="#555" stroke-width="0.7"/>
<line x1="526.2" y1="93.85" x2="524.2" y2="93.85" stroke="#555" stroke-width="0.7"/>
<line x1="296.0" y1="77.30" x2="298.0" y2="77.30" stroke="#555" stroke-width="0.7"/>
<line x1="526.2" y1="77.30" x2="524.2" y2="77.30" stroke="#555" stroke-width="0.7"/>
<line x1="296.0" y1="60.75" x2="298.0" y2="60.75" stroke="#555" stroke-width="0.7"/>
<line x1="526.2" y1="60.75" x2="524.2" y2="60.75" stroke="#555" stroke-width="0.7"/>
<line x1="296.0" y1="44.20" x2="298.0" y2="44.20" stroke="#555" stroke-width="0.7"/>
<line x1="526.2" y1="44.20" x2="524.2" y2="44.20" stroke="#555" stroke-width="0.7"/>
<text x="292.8" y="112.55" font-family="Liberation Sans, Arial, sans-serif" stroke="#262626" stroke-width="0.12" font-size="6.2" fill="#262626" text-anchor="end">0</text>
<text x="292.8" y="96.00" font-family="Liberation Sans, Arial, sans-serif" stroke="#262626" stroke-width="0.12" font-size="6.2" fill="#262626" text-anchor="end">100</text>
<text x="292.8" y="79.45" font-family="Liberation Sans, Arial, sans-serif" stroke="#262626" stroke-width="0.12" font-size="6.2" fill="#262626" text-anchor="end">200</text>
<text x="292.8" y="62.90" font-family="Liberation Sans, Arial, sans-serif" stroke="#262626" stroke-width="0.12" font-size="6.2" fill="#262626" text-anchor="end">300</text>
<text x="292.8" y="46.35" font-family="Liberation Sans, Arial, sans-serif" stroke="#262626" stroke-width="0.12" font-size="6.2" fill="#262626" text-anchor="end">400</text>
<text x="306.50" y="119.10" font-family="Liberation Sans, Arial, sans-serif" stroke="#262626" stroke-width="0.12" font-size="6.2" fill="#262626" text-anchor="middle">90</text>
<text x="345.59" y="119.10" font-family="Liberation Sans, Arial, sans-serif" stroke="#262626" stroke-width="0.12" font-size="6.2" fill="#262626" text-anchor="middle">100</text>
<text x="380.95" y="119.10" font-family="Liberation Sans, Arial, sans-serif" stroke="#262626" stroke-width="0.12" font-size="6.2" fill="#262626" text-anchor="middle">110</text>
<text x="413.23" y="119.10" font-family="Liberation Sans, Arial, sans-serif" stroke="#262626" stroke-width="0.12" font-size="6.2" fill="#262626" text-anchor="middle">120</text>
<text x="442.93" y="119.10" font-family="Liberation Sans, Arial, sans-serif" stroke="#262626" stroke-width="0.12" font-size="6.2" fill="#262626" text-anchor="middle">130</text>
<text x="470.42" y="119.10" font-family="Liberation Sans, Arial, sans-serif" stroke="#262626" stroke-width="0.12" font-size="6.2" fill="#262626" text-anchor="middle">140</text>
<text x="496.02" y="119.10" font-family="Liberation Sans, Arial, sans-serif" stroke="#262626" stroke-width="0.12" font-size="6.2" fill="#262626" text-anchor="middle">150</text>
<text x="519.96" y="119.10" font-family="Liberation Sans, Arial, sans-serif" stroke="#262626" stroke-width="0.12" font-size="6.2" fill="#262626" text-anchor="middle">160</text>
<text x="411.1" y="128.9" font-family="Liberation Sans, Arial, sans-serif" stroke="#262626" stroke-width="0.12" font-size="7" fill="#262626" text-anchor="middle">Frequency[p.u]</text>
<text x="279.0" y="72.95" font-family="Liberation Sans, Arial, sans-serif" stroke="#262626" stroke-width="0.12" font-size="7" fill="#262626" text-anchor="middle" transform="rotate(-90 279.0 72.95)">Magnitude[ohm]</text>
<rect x="452.4" y="13.3" width="89.90" height="19.70" fill="#fff" stroke="#a0a0a0" stroke-width="0.8"/>
<line x1="456.2" y1="17.50" x2="473.2" y2="17.50" stroke="#ff6060" stroke-width="1.1"/>
<path d="M461.0 27.60h6.4M464.2 24.40v6.4" stroke="#2020ff" stroke-width="1.1" fill="none"/>
<text x="476.0" y="19.40" font-family="Liberation Sans, Arial, sans-serif" font-size="5.5" fill="#262626">Magnitude - Measurement</text>
<text x="476.9" y="29.30" font-family="Liberation Sans, Arial, sans-serif" font-size="5.5" fill="#262626">Magnitude - Conventional</text>
<clipPath id="clip141"><rect x="296.0" y="141.0" width="230.20000000000005" height="74.69999999999999"/></clipPath>
<line x1="298.16" y1="141.0" x2="298.16" y2="215.7" stroke="#f3f3f3" stroke-width="0.6"/>
<line x1="314.65" y1="141.0" x2="314.65" y2="215.7" stroke="#f3f3f3" stroke-width="0.6"/>
<line x1="322.63" y1="141.0" x2="322.63" y2="215.7" stroke="#f3f3f3" stroke-width="0.6"/>
<line x1="330.44" y1="141.0" x2="330.44" y2="215.7" stroke="#f3f3f3" stroke-width="0.6"/>
<line x1="338.09" y1="141.0" x2="338.09" y2="215.7" stroke="#f3f3f3" stroke-width="0.6"/>
<line x1="352.94" y1="141.0" x2="352.94" y2="215.7" stroke="#f3f3f3" stroke-width="0.6"/>
<line x1="360.14" y1="141.0" x2="360.14" y2="215.7" stroke="#f3f3f3" stroke-width="0.6"/>
<line x1="367.21" y1="141.0" x2="367.21" y2="215.7" stroke="#f3f3f3" stroke-width="0.6"/>
<line x1="374.14" y1="141.0" x2="374.14" y2="215.7" stroke="#f3f3f3" stroke-width="0.6"/>
<line x1="387.63" y1="141.0" x2="387.63" y2="215.7" stroke="#f3f3f3" stroke-width="0.6"/>
<line x1="394.20" y1="141.0" x2="394.20" y2="215.7" stroke="#f3f3f3" stroke-width="0.6"/>
<line x1="400.65" y1="141.0" x2="400.65" y2="215.7" stroke="#f3f3f3" stroke-width="0.6"/>
<line x1="406.99" y1="141.0" x2="406.99" y2="215.7" stroke="#f3f3f3" stroke-width="0.6"/>
<line x1="419.36" y1="141.0" x2="419.36" y2="215.7" stroke="#f3f3f3" stroke-width="0.6"/>
<line x1="425.40" y1="141.0" x2="425.40" y2="215.7" stroke="#f3f3f3" stroke-width="0.6"/>
<line x1="431.33" y1="141.0" x2="431.33" y2="215.7" stroke="#f3f3f3" stroke-width="0.6"/>
<line x1="437.17" y1="141.0" x2="437.17" y2="215.7" stroke="#f3f3f3" stroke-width="0.6"/>
<line x1="448.59" y1="141.0" x2="448.59" y2="215.7" stroke="#f3f3f3" stroke-width="0.6"/>
<line x1="454.17" y1="141.0" x2="454.17" y2="215.7" stroke="#f3f3f3" stroke-width="0.6"/>
<line x1="459.67" y1="141.0" x2="459.67" y2="215.7" stroke="#f3f3f3" stroke-width="0.6"/>
<line x1="465.08" y1="141.0" x2="465.08" y2="215.7" stroke="#f3f3f3" stroke-width="0.6"/>
<line x1="475.68" y1="141.0" x2="475.68" y2="215.7" stroke="#f3f3f3" stroke-width="0.6"/>
<line x1="480.87" y1="141.0" x2="480.87" y2="215.7" stroke="#f3f3f3" stroke-width="0.6"/>
<line x1="485.99" y1="141.0" x2="485.99" y2="215.7" stroke="#f3f3f3" stroke-width="0.6"/>
<line x1="491.04" y1="141.0" x2="491.04" y2="215.7" stroke="#f3f3f3" stroke-width="0.6"/>
<line x1="500.93" y1="141.0" x2="500.93" y2="215.7" stroke="#f3f3f3" stroke-width="0.6"/>
<line x1="505.78" y1="141.0" x2="505.78" y2="215.7" stroke="#f3f3f3" stroke-width="0.6"/>
<line x1="510.57" y1="141.0" x2="510.57" y2="215.7" stroke="#f3f3f3" stroke-width="0.6"/>
<line x1="515.29" y1="141.0" x2="515.29" y2="215.7" stroke="#f3f3f3" stroke-width="0.6"/>
<line x1="524.57" y1="141.0" x2="524.57" y2="215.7" stroke="#f3f3f3" stroke-width="0.6"/>
<line x1="296.0" y1="206.36" x2="526.2" y2="206.36" stroke="#f3f3f3" stroke-width="0.6"/>
<line x1="296.0" y1="187.69" x2="526.2" y2="187.69" stroke="#f3f3f3" stroke-width="0.6"/>
<line x1="296.0" y1="169.01" x2="526.2" y2="169.01" stroke="#f3f3f3" stroke-width="0.6"/>
<line x1="296.0" y1="150.34" x2="526.2" y2="150.34" stroke="#f3f3f3" stroke-width="0.6"/>
<line x1="306.50" y1="141.0" x2="306.50" y2="215.7" stroke="#e6e6e6" stroke-width="0.7"/>
<line x1="345.59" y1="141.0" x2="345.59" y2="215.7" stroke="#e6e6e6" stroke-width="0.7"/>
<line x1="380.95" y1="141.0" x2="380.95" y2="215.7" stroke="#e6e6e6" stroke-width="0.7"/>
<line x1="413.23" y1="141.0" x2="413.23" y2="215.7" stroke="#e6e6e6" stroke-width="0.7"/>
<line x1="442.93" y1="141.0" x2="442.93" y2="215.7" stroke="#e6e6e6" stroke-width="0.7"/>
<line x1="470.42" y1="141.0" x2="470.42" y2="215.7" stroke="#e6e6e6" stroke-width="0.7"/>
<line x1="496.02" y1="141.0" x2="496.02" y2="215.7" stroke="#e6e6e6" stroke-width="0.7"/>
<line x1="519.96" y1="141.0" x2="519.96" y2="215.7" stroke="#e6e6e6" stroke-width="0.7"/>
<line x1="296.0" y1="215.70" x2="526.2" y2="215.70" stroke="#e6e6e6" stroke-width="0.7"/>
<line x1="296.0" y1="197.03" x2="526.2" y2="197.03" stroke="#e6e6e6" stroke-width="0.7"/>
<line x1="296.0" y1="178.35" x2="526.2" y2="178.35" stroke="#e6e6e6" stroke-width="0.7"/>
<line x1="296.0" y1="159.67" x2="526.2" y2="159.67" stroke="#e6e6e6" stroke-width="0.7"/>
<line x1="296.0" y1="141.00" x2="526.2" y2="141.00" stroke="#e6e6e6" stroke-width="0.7"/>
<path d="M293.65 210.10h4.8M296.05 207.70v4.8M298.91 209.93h4.8M301.31 207.53v4.8M304.10 209.72h4.8M306.50 207.32v4.8M309.22 209.51h4.8M311.62 207.11v4.8M314.27 209.27h4.8M316.67 206.87v4.8M319.24 209.00h4.8M321.64 206.60v4.8M324.16 208.68h4.8M326.56 206.28v4.8M329.01 208.31h4.8M331.41 205.91v4.8M333.80 207.87h4.8M336.20 205.47v4.8M338.52 207.33h4.8M340.92 204.93v4.8M343.19 206.68h4.8M345.59 204.28v4.8M347.80 205.87h4.8M350.20 203.47v4.8M352.35 204.85h4.8M354.75 202.45v4.8M356.85 203.54h4.8M359.25 201.14v4.8M361.29 201.88h4.8M363.69 199.48v4.8M365.68 200.22h4.8M368.08 197.82v4.8M370.02 196.88h4.8M372.42 194.48v4.8M374.31 192.26h4.8M376.71 189.86v4.8M378.55 186.51h4.8M380.95 184.11v4.8M382.74 180.01h4.8M385.14 177.61v4.8M386.89 173.79h4.8M389.29 171.39v4.8M390.99 168.73h4.8M393.39 166.33v4.8M395.04 165.11h4.8M397.44 162.71v4.8M399.05 162.36h4.8M401.45 159.96v4.8M403.02 160.19h4.8M405.42 157.79v4.8M406.95 158.55h4.8M409.35 156.15v4.8M410.83 157.48h4.8M413.23 155.08v4.8M414.67 156.90h4.8M417.07 154.50v4.8M418.48 156.60h4.8M420.88 154.20v4.8M422.25 156.43h4.8M424.65 154.03v4.8M425.98 156.95h4.8M428.38 154.55v4.8M429.67 157.12h4.8M432.07 154.72v4.8M433.32 157.39h4.8M435.72 154.99v4.8M436.94 157.45h4.8M439.34 155.05v4.8M440.53 158.38h4.8M442.93 155.98v4.8M444.08 159.87h4.8M446.48 157.47v4.8M447.59 162.01h4.8M449.99 159.61v4.8M451.08 164.80h4.8M453.48 162.40v4.8M454.53 168.12h4.8M456.93 165.72v4.8M457.95 171.79h4.8M460.35 169.39v4.8M461.34 176.51h4.8M463.74 174.11v4.8M464.69 182.47h4.8M467.09 180.07v4.8M468.02 188.44h4.8M470.42 186.04v4.8M471.32 193.41h4.8M473.72 191.01v4.8M474.59 197.18h4.8M476.99 194.78v4.8M477.83 199.98h4.8M480.23 197.58v4.8M481.04 201.97h4.8M483.44 199.57v4.8M484.22 203.39h4.8M486.62 200.99v4.8M487.38 204.50h4.8M489.78 202.10v4.8M490.51 206.15h4.8M492.91 203.75v4.8M493.62 206.95h4.8M496.02 204.55v4.8M496.70 207.55h4.8M499.10 205.15v4.8M499.75 208.04h4.8M502.15 205.64v4.8M502.78 208.46h4.8M505.18 206.06v4.8M505.78 208.80h4.8M508.18 206.40v4.8M508.76 209.10h4.8M511.16 206.70v4.8M511.72 209.36h4.8M514.12 206.96v4.8M514.65 209.58h4.8M517.05 207.18v4.8M517.56 209.74h4.8M519.96 207.34v4.8M520.45 209.60h4.8M522.85 207.20v4.8M523.31 209.72h4.8M525.71 207.32v4.8" stroke="#6060ff" stroke-width="0.95" fill="none"/>
<g clip-path="url(#clip141)">
<path d="M296.05 210.17 L296.58 210.15 L297.11 210.14 L297.64 210.12 L298.17 210.11 L298.70 210.10 L299.22 210.08 L299.75 210.07 L300.28 210.05 L300.80 210.03 L301.33 210.02 L301.85 209.99 L302.37 209.97 L302.90 209.95 L303.42 209.93 L303.94 209.91 L304.46 209.89 L304.98 209.87 L305.50 209.85 L306.01 209.83 L306.53 209.81 L307.05 209.79 L307.56 209.77 L308.08 209.75 L308.59 209.73 L309.11 209.71 L309.62 209.69 L310.13 209.67 L310.64 209.65 L311.15 209.63 L311.66 209.61 L312.17 209.59 L312.68 209.57 L313.19 209.55 L313.70 209.53 L314.20 209.50 L314.71 209.48 L315.21 209.46 L315.72 209.44 L316.22 209.41 L316.73 209.39 L317.23 209.36 L317.73 209.34 L318.23 209.31 L318.73 209.29 L319.23 209.26 L319.73 209.24 L320.23 209.21 L320.73 209.18 L321.22 209.15 L321.72 209.13 L322.21 209.10 L322.71 209.07 L323.20 209.04 L323.70 209.01 L324.19 208.98 L324.68 208.95 L325.18 208.92 L325.67 208.88 L326.16 208.85 L326.65 208.82 L327.14 208.78 L327.62 208.75 L328.11 208.72 L328.60 208.68 L329.09 208.64 L329.57 208.61 L330.06 208.57 L330.54 208.53 L331.03 208.49 L331.51 208.45 L331.99 208.41 L332.48 208.37 L332.96 208.33 L333.44 208.29 L333.92 208.25 L334.40 208.20 L334.88 208.16 L335.36 208.11 L335.83 208.07 L336.31 208.02 L336.79 207.97 L337.26 207.92 L337.74 207.87 L338.21 207.82 L338.69 207.77 L339.16 207.72 L339.63 207.66 L340.11 207.61 L340.58 207.55 L341.05 207.49 L341.52 207.43 L341.99 207.37 L342.46 207.31 L342.93 207.25 L343.40 207.19 L343.86 207.12 L344.33 207.05 L344.80 206.99 L345.26 206.92 L345.73 206.85 L346.19 206.79 L346.66 206.73 L347.12 206.67 L347.58 206.60 L348.05 206.54 L348.51 206.47 L348.97 206.40 L349.43 206.33 L349.89 206.25 L350.35 206.17 L350.81 206.10 L351.27 206.02 L351.72 205.93 L352.18 205.85 L352.64 205.76 L353.09 205.67 L353.55 205.58 L354.00 205.48 L354.46 205.39 L354.91 205.28 L355.37 205.18 L355.82 205.07 L356.27 204.96 L356.72 204.85 L357.17 204.73 L357.62 204.61 L358.07 204.49 L358.52 204.36 L358.97 204.23 L359.42 204.10 L359.87 203.96 L360.32 203.81 L360.76 203.67 L361.21 203.52 L361.66 203.36 L362.10 203.21 L362.54 203.05 L362.99 202.89 L363.43 202.72 L363.88 202.57 L364.32 202.42 L364.76 202.28 L365.20 202.14 L365.64 202.00 L366.08 201.87 L366.52 201.74 L366.96 201.62 L367.40 201.49 L367.84 201.37 L368.28 201.19 L368.71 200.94 L369.15 200.67 L369.59 200.39 L370.02 200.10 L370.46 199.80 L370.89 199.49 L371.33 199.17 L371.76 198.83 L372.19 198.48 L372.63 198.11 L373.06 197.74 L373.49 197.35 L373.92 196.94 L374.35 196.52 L374.78 196.09 L375.21 195.65 L375.64 195.20 L376.07 194.72 L376.50 194.23 L376.93 193.72 L377.35 193.21 L377.78 192.68 L378.21 192.14 L378.63 191.59 L379.06 191.03 L379.48 190.46 L379.91 189.88 L380.33 189.29 L380.75 188.69 L381.18 188.08 L381.60 187.47 L382.02 186.84 L382.44 186.21 L382.86 185.58 L383.28 184.94 L383.70 184.30 L384.12 183.66 L384.54 182.96 L384.96 182.22 L385.38 181.49 L385.80 180.76 L386.21 180.03 L386.63 179.31 L387.05 178.60 L387.46 177.89 L387.88 177.20 L388.29 176.51 L388.71 175.84 L389.12 175.17 L389.53 174.50 L389.95 173.82 L390.36 173.16 L390.77 172.52 L391.18 171.89 L391.59 171.27 L392.00 170.67 L392.42 170.08 L392.82 169.51 L393.23 168.96 L393.64 168.42 L394.05 167.90 L394.46 167.42 L394.87 166.96 L395.27 166.52 L395.68 166.09 L396.09 165.68 L396.49 165.27 L396.90 164.88 L397.30 164.49 L397.71 164.12 L398.11 163.75 L398.51 163.38 L398.92 163.03 L399.32 162.68 L399.72 162.33 L400.12 161.99 L400.53 161.66 L400.93 161.35 L401.33 161.05 L401.73 160.76 L402.13 160.48 L402.53 160.19 L402.92 159.92 L403.32 159.65 L403.72 159.39 L404.12 159.13 L404.52 158.88 L404.91 158.63 L405.31 158.39 L405.70 158.15 L406.10 157.92 L406.49 157.69 L406.89 157.47 L407.28 157.28 L407.68 157.11 L408.07 156.95 L408.46 156.79 L408.85 156.63 L409.25 156.49 L409.64 156.34 L410.03 156.21 L410.42 156.08 L410.81 155.95 L411.20 155.83 L411.59 155.72 L411.98 155.61 L412.37 155.51 L412.76 155.41 L413.14 155.32 L413.53 155.23 L413.92 155.15 L414.31 155.07 L414.69 155.00 L415.08 154.93 L415.46 154.87 L415.85 154.81 L416.23 154.75 L416.62 154.71 L417.00 154.66 L417.38 154.62 L417.77 154.59 L418.15 154.55 L418.53 154.52 L418.91 154.49 L419.30 154.46 L419.68 154.44 L420.06 154.41 L420.44 154.39 L420.82 154.36 L421.20 154.34 L421.58 154.32 L421.96 154.30 L422.33 154.28 L422.71 154.26 L423.09 154.25 L423.47 154.23 L423.84 154.22 L424.22 154.20 L424.60 154.19 L424.97 154.27 L425.35 154.35 L425.72 154.42 L426.10 154.48 L426.47 154.54 L426.85 154.58 L427.22 154.62 L427.59 154.65 L427.97 154.68 L428.34 154.70 L428.71 154.72 L429.08 154.74 L429.45 154.76 L429.82 154.77 L430.19 154.79 L430.56 154.80 L430.93 154.82 L431.30 154.84 L431.67 154.87 L432.04 154.90 L432.41 154.94 L432.78 154.97 L433.14 155.01 L433.51 155.05 L433.88 155.09 L434.24 155.13 L434.61 155.17 L434.98 155.21 L435.34 155.25 L435.71 155.28 L436.07 155.32 L436.44 155.36 L436.80 155.39 L437.16 155.41 L437.53 155.43 L437.89 155.45 L438.25 155.46 L438.61 155.46 L438.98 155.47 L439.34 155.46 L439.70 155.55 L440.06 155.64 L440.42 155.73 L440.78 155.83 L441.14 155.93 L441.50 156.04 L441.86 156.15 L442.22 156.26 L442.57 156.39 L442.93 156.51 L443.29 156.66 L443.65 156.81 L444.00 156.97 L444.36 157.13 L444.72 157.30 L445.07 157.48 L445.43 157.66 L445.78 157.85 L446.14 158.05 L446.49 158.25 L446.85 158.46 L447.20 158.67 L447.55 158.89 L447.91 159.12 L448.26 159.36 L448.61 159.60 L448.97 159.85 L449.32 160.10 L449.67 160.36 L450.02 160.63 L450.37 160.90 L450.72 161.18 L451.07 161.47 L451.42 161.76 L451.77 162.06 L452.12 162.37 L452.47 162.69 L452.82 163.01 L453.17 163.34 L453.51 163.67 L453.86 164.01 L454.21 164.35 L454.56 164.70 L454.90 165.05 L455.25 165.40 L455.59 165.75 L455.94 166.11 L456.29 166.47 L456.63 166.83 L456.98 167.19 L457.32 167.56 L457.66 167.92 L458.01 168.30 L458.35 168.67 L458.69 169.05 L459.04 169.43 L459.38 169.83 L459.72 170.23 L460.06 170.64 L460.40 171.05 L460.75 171.49 L461.09 171.93 L461.43 172.38 L461.77 172.85 L462.11 173.34 L462.45 173.84 L462.79 174.35 L463.13 174.88 L463.46 175.43 L463.80 175.99 L464.14 176.56 L464.48 177.15 L464.82 177.75 L465.15 178.36 L465.49 178.97 L465.83 179.58 L466.16 180.20 L466.50 180.83 L466.83 181.46 L467.17 182.08 L467.50 182.71 L467.84 183.34 L468.17 183.96 L468.51 184.58 L468.84 185.19 L469.17 185.79 L469.51 186.39 L469.84 186.97 L470.17 187.55 L470.51 188.11 L470.84 188.67 L471.17 189.21 L471.50 189.75 L471.83 190.27 L472.16 190.77 L472.49 191.27 L472.82 191.75 L473.15 192.22 L473.48 192.68 L473.81 193.12 L474.14 193.56 L474.47 193.98 L474.80 194.39 L475.13 194.78 L475.46 195.17 L475.78 195.54 L476.11 195.90 L476.44 196.25 L476.76 196.59 L477.09 196.92 L477.42 197.24 L477.74 197.55 L478.07 197.86 L478.39 198.15 L478.72 198.43 L479.04 198.71 L479.37 198.98 L479.69 199.24 L480.02 199.49 L480.34 199.73 L480.66 199.96 L480.99 200.19 L481.31 200.41 L481.63 200.62 L481.95 200.82 L482.28 201.02 L482.60 201.21 L482.92 201.39 L483.24 201.56 L483.56 201.73 L483.88 201.90 L484.20 202.06 L484.52 202.21 L484.84 202.36 L485.16 202.50 L485.48 202.64 L485.80 202.78 L486.12 202.91 L486.44 203.04 L486.75 203.17 L487.07 203.29 L487.39 203.41 L487.71 203.53 L488.02 203.65 L488.34 203.76 L488.66 203.87 L488.97 203.98 L489.29 204.09 L489.60 204.20 L489.92 204.36 L490.23 204.58 L490.55 204.79 L490.86 204.99 L491.18 205.17 L491.49 205.34 L491.81 205.49 L492.12 205.63 L492.43 205.75 L492.75 205.87 L493.06 205.98 L493.37 206.08 L493.68 206.18 L493.99 206.27 L494.31 206.35 L494.62 206.43 L494.93 206.51 L495.24 206.59 L495.55 206.66 L495.86 206.73 L496.17 206.80 L496.48 206.87 L496.79 206.93 L497.10 206.99 L497.41 207.05 L497.72 207.11 L498.03 207.17 L498.33 207.23 L498.64 207.28 L498.95 207.34 L499.26 207.39 L499.56 207.45 L499.87 207.50 L500.18 207.55 L500.49 207.60 L500.79 207.65 L501.10 207.70 L501.40 207.75 L501.71 207.79 L502.01 207.84 L502.32 207.88 L502.62 207.93 L502.93 207.97 L503.23 208.01 L503.54 208.06 L503.84 208.10 L504.14 208.14 L504.45 208.18 L504.75 208.22 L505.05 208.25 L505.36 208.29 L505.66 208.33 L505.96 208.37 L506.26 208.40 L506.56 208.44 L506.86 208.47 L507.16 208.51 L507.47 208.54 L507.77 208.57 L508.07 208.60 L508.37 208.64 L508.67 208.67 L508.97 208.70 L509.27 208.73 L509.56 208.76 L509.86 208.79 L510.16 208.82 L510.46 208.85 L510.76 208.88 L511.06 208.90 L511.35 208.93 L511.65 208.96 L511.95 208.99 L512.25 209.01 L512.54 209.04 L512.84 209.06 L513.14 209.09 L513.43 209.11 L513.73 209.14 L514.02 209.16 L514.32 209.19 L514.61 209.21 L514.91 209.23 L515.20 209.25 L515.50 209.28 L515.79 209.30 L516.08 209.32 L516.38 209.34 L516.67 209.36 L516.96 209.38 L517.26 209.40 L517.55 209.42 L517.84 209.44 L518.14 209.46 L518.43 209.48 L518.72 209.50 L519.01 209.51 L519.30 209.53 L519.59 209.54 L519.88 209.55 L520.17 209.56 L520.46 209.56 L520.76 209.56 L521.05 209.56 L521.33 209.55 L521.62 209.53 L521.91 209.51 L522.20 209.49 L522.49 209.46 L522.78 209.43 L523.07 209.40 L523.36 209.41 L523.64 209.43 L523.93 209.45 L524.22 209.46 L524.51 209.48 L524.79 209.49 L525.08 209.51 L525.37 209.52 L525.65 209.53 L525.94 209.55" fill="none" stroke="#ff5a6e" stroke-width="1.1" stroke-opacity="0.9"/>
</g>
<rect x="296.0" y="141.0" width="230.20000000000005" height="74.69999999999999" fill="none" stroke="#8a8a8a" stroke-width="0.9"/>
<line x1="306.50" y1="215.7" x2="306.50" y2="213.7" stroke="#555" stroke-width="0.7"/>
<line x1="306.50" y1="141.0" x2="306.50" y2="143.0" stroke="#555" stroke-width="0.7"/>
<line x1="345.59" y1="215.7" x2="345.59" y2="213.7" stroke="#555" stroke-width="0.7"/>
<line x1="345.59" y1="141.0" x2="345.59" y2="143.0" stroke="#555" stroke-width="0.7"/>
<line x1="380.95" y1="215.7" x2="380.95" y2="213.7" stroke="#555" stroke-width="0.7"/>
<line x1="380.95" y1="141.0" x2="380.95" y2="143.0" stroke="#555" stroke-width="0.7"/>
<line x1="413.23" y1="215.7" x2="413.23" y2="213.7" stroke="#555" stroke-width="0.7"/>
<line x1="413.23" y1="141.0" x2="413.23" y2="143.0" stroke="#555" stroke-width="0.7"/>
<line x1="442.93" y1="215.7" x2="442.93" y2="213.7" stroke="#555" stroke-width="0.7"/>
<line x1="442.93" y1="141.0" x2="442.93" y2="143.0" stroke="#555" stroke-width="0.7"/>
<line x1="470.42" y1="215.7" x2="470.42" y2="213.7" stroke="#555" stroke-width="0.7"/>
<line x1="470.42" y1="141.0" x2="470.42" y2="143.0" stroke="#555" stroke-width="0.7"/>
<line x1="496.02" y1="215.7" x2="496.02" y2="213.7" stroke="#555" stroke-width="0.7"/>
<line x1="496.02" y1="141.0" x2="496.02" y2="143.0" stroke="#555" stroke-width="0.7"/>
<line x1="519.96" y1="215.7" x2="519.96" y2="213.7" stroke="#555" stroke-width="0.7"/>
<line x1="519.96" y1="141.0" x2="519.96" y2="143.0" stroke="#555" stroke-width="0.7"/>
<line x1="298.16" y1="215.7" x2="298.16" y2="214.5" stroke="#555" stroke-width="0.7"/>
<line x1="298.16" y1="141.0" x2="298.16" y2="142.2" stroke="#555" stroke-width="0.7"/>
<line x1="314.65" y1="215.7" x2="314.65" y2="214.5" stroke="#555" stroke-width="0.7"/>
<line x1="314.65" y1="141.0" x2="314.65" y2="142.2" stroke="#555" stroke-width="0.7"/>
<line x1="322.63" y1="215.7" x2="322.63" y2="214.5" stroke="#555" stroke-width="0.7"/>
<line x1="322.63" y1="141.0" x2="322.63" y2="142.2" stroke="#555" stroke-width="0.7"/>
<line x1="330.44" y1="215.7" x2="330.44" y2="214.5" stroke="#555" stroke-width="0.7"/>
<line x1="330.44" y1="141.0" x2="330.44" y2="142.2" stroke="#555" stroke-width="0.7"/>
<line x1="338.09" y1="215.7" x2="338.09" y2="214.5" stroke="#555" stroke-width="0.7"/>
<line x1="338.09" y1="141.0" x2="338.09" y2="142.2" stroke="#555" stroke-width="0.7"/>
<line x1="352.94" y1="215.7" x2="352.94" y2="214.5" stroke="#555" stroke-width="0.7"/>
<line x1="352.94" y1="141.0" x2="352.94" y2="142.2" stroke="#555" stroke-width="0.7"/>
<line x1="360.14" y1="215.7" x2="360.14" y2="214.5" stroke="#555" stroke-width="0.7"/>
<line x1="360.14" y1="141.0" x2="360.14" y2="142.2" stroke="#555" stroke-width="0.7"/>
<line x1="367.21" y1="215.7" x2="367.21" y2="214.5" stroke="#555" stroke-width="0.7"/>
<line x1="367.21" y1="141.0" x2="367.21" y2="142.2" stroke="#555" stroke-width="0.7"/>
<line x1="374.14" y1="215.7" x2="374.14" y2="214.5" stroke="#555" stroke-width="0.7"/>
<line x1="374.14" y1="141.0" x2="374.14" y2="142.2" stroke="#555" stroke-width="0.7"/>
<line x1="387.63" y1="215.7" x2="387.63" y2="214.5" stroke="#555" stroke-width="0.7"/>
<line x1="387.63" y1="141.0" x2="387.63" y2="142.2" stroke="#555" stroke-width="0.7"/>
<line x1="394.20" y1="215.7" x2="394.20" y2="214.5" stroke="#555" stroke-width="0.7"/>
<line x1="394.20" y1="141.0" x2="394.20" y2="142.2" stroke="#555" stroke-width="0.7"/>
<line x1="400.65" y1="215.7" x2="400.65" y2="214.5" stroke="#555" stroke-width="0.7"/>
<line x1="400.65" y1="141.0" x2="400.65" y2="142.2" stroke="#555" stroke-width="0.7"/>
<line x1="406.99" y1="215.7" x2="406.99" y2="214.5" stroke="#555" stroke-width="0.7"/>
<line x1="406.99" y1="141.0" x2="406.99" y2="142.2" stroke="#555" stroke-width="0.7"/>
<line x1="419.36" y1="215.7" x2="419.36" y2="214.5" stroke="#555" stroke-width="0.7"/>
<line x1="419.36" y1="141.0" x2="419.36" y2="142.2" stroke="#555" stroke-width="0.7"/>
<line x1="425.40" y1="215.7" x2="425.40" y2="214.5" stroke="#555" stroke-width="0.7"/>
<line x1="425.40" y1="141.0" x2="425.40" y2="142.2" stroke="#555" stroke-width="0.7"/>
<line x1="431.33" y1="215.7" x2="431.33" y2="214.5" stroke="#555" stroke-width="0.7"/>
<line x1="431.33" y1="141.0" x2="431.33" y2="142.2" stroke="#555" stroke-width="0.7"/>
<line x1="437.17" y1="215.7" x2="437.17" y2="214.5" stroke="#555" stroke-width="0.7"/>
<line x1="437.17" y1="141.0" x2="437.17" y2="142.2" stroke="#555" stroke-width="0.7"/>
<line x1="448.59" y1="215.7" x2="448.59" y2="214.5" stroke="#555" stroke-width="0.7"/>
<line x1="448.59" y1="141.0" x2="448.59" y2="142.2" stroke="#555" stroke-width="0.7"/>
<line x1="454.17" y1="215.7" x2="454.17" y2="214.5" stroke="#555" stroke-width="0.7"/>
<line x1="454.17" y1="141.0" x2="454.17" y2="142.2" stroke="#555" stroke-width="0.7"/>
<line x1="459.67" y1="215.7" x2="459.67" y2="214.5" stroke="#555" stroke-width="0.7"/>
<line x1="459.67" y1="141.0" x2="459.67" y2="142.2" stroke="#555" stroke-width="0.7"/>
<line x1="465.08" y1="215.7" x2="465.08" y2="214.5" stroke="#555" stroke-width="0.7"/>
<line x1="465.08" y1="141.0" x2="465.08" y2="142.2" stroke="#555" stroke-width="0.7"/>
<line x1="475.68" y1="215.7" x2="475.68" y2="214.5" stroke="#555" stroke-width="0.7"/>
<line x1="475.68" y1="141.0" x2="475.68" y2="142.2" stroke="#555" stroke-width="0.7"/>
<line x1="480.87" y1="215.7" x2="480.87" y2="214.5" stroke="#555" stroke-width="0.7"/>
<line x1="480.87" y1="141.0" x2="480.87" y2="142.2" stroke="#555" stroke-width="0.7"/>
<line x1="485.99" y1="215.7" x2="485.99" y2="214.5" stroke="#555" stroke-width="0.7"/>
<line x1="485.99" y1="141.0" x2="485.99" y2="142.2" stroke="#555" stroke-width="0.7"/>
<line x1="491.04" y1="215.7" x2="491.04" y2="214.5" stroke="#555" stroke-width="0.7"/>
<line x1="491.04" y1="141.0" x2="491.04" y2="142.2" stroke="#555" stroke-width="0.7"/>
<line x1="500.93" y1="215.7" x2="500.93" y2="214.5" stroke="#555" stroke-width="0.7"/>
<line x1="500.93" y1="141.0" x2="500.93" y2="142.2" stroke="#555" stroke-width="0.7"/>
<line x1="505.78" y1="215.7" x2="505.78" y2="214.5" stroke="#555" stroke-width="0.7"/>
<line x1="505.78" y1="141.0" x2="505.78" y2="142.2" stroke="#555" stroke-width="0.7"/>
<line x1="510.57" y1="215.7" x2="510.57" y2="214.5" stroke="#555" stroke-width="0.7"/>
<line x1="510.57" y1="141.0" x2="510.57" y2="142.2" stroke="#555" stroke-width="0.7"/>
<line x1="515.29" y1="215.7" x2="515.29" y2="214.5" stroke="#555" stroke-width="0.7"/>
<line x1="515.29" y1="141.0" x2="515.29" y2="142.2" stroke="#555" stroke-width="0.7"/>
<line x1="524.57" y1="215.7" x2="524.57" y2="214.5" stroke="#555" stroke-width="0.7"/>
<line x1="524.57" y1="141.0" x2="524.57" y2="142.2" stroke="#555" stroke-width="0.7"/>
<line x1="296.0" y1="215.70" x2="298.0" y2="215.70" stroke="#555" stroke-width="0.7"/>
<line x1="526.2" y1="215.70" x2="524.2" y2="215.70" stroke="#555" stroke-width="0.7"/>
<line x1="296.0" y1="197.03" x2="298.0" y2="197.03" stroke="#555" stroke-width="0.7"/>
<line x1="526.2" y1="197.03" x2="524.2" y2="197.03" stroke="#555" stroke-width="0.7"/>
<line x1="296.0" y1="178.35" x2="298.0" y2="178.35" stroke="#555" stroke-width="0.7"/>
<line x1="526.2" y1="178.35" x2="524.2" y2="178.35" stroke="#555" stroke-width="0.7"/>
<line x1="296.0" y1="159.67" x2="298.0" y2="159.67" stroke="#555" stroke-width="0.7"/>
<line x1="526.2" y1="159.67" x2="524.2" y2="159.67" stroke="#555" stroke-width="0.7"/>
<line x1="296.0" y1="141.00" x2="298.0" y2="141.00" stroke="#555" stroke-width="0.7"/>
<line x1="526.2" y1="141.00" x2="524.2" y2="141.00" stroke="#555" stroke-width="0.7"/>
<text x="292.8" y="217.85" font-family="Liberation Sans, Arial, sans-serif" stroke="#262626" stroke-width="0.12" font-size="6.2" fill="#262626" text-anchor="end">-100</text>
<text x="292.8" y="199.18" font-family="Liberation Sans, Arial, sans-serif" stroke="#262626" stroke-width="0.12" font-size="6.2" fill="#262626" text-anchor="end">-50</text>
<text x="292.8" y="180.50" font-family="Liberation Sans, Arial, sans-serif" stroke="#262626" stroke-width="0.12" font-size="6.2" fill="#262626" text-anchor="end">0</text>
<text x="292.8" y="161.82" font-family="Liberation Sans, Arial, sans-serif" stroke="#262626" stroke-width="0.12" font-size="6.2" fill="#262626" text-anchor="end">50</text>
<text x="292.8" y="143.15" font-family="Liberation Sans, Arial, sans-serif" stroke="#262626" stroke-width="0.12" font-size="6.2" fill="#262626" text-anchor="end">100</text>
<text x="306.50" y="224.40" font-family="Liberation Sans, Arial, sans-serif" stroke="#262626" stroke-width="0.12" font-size="6.2" fill="#262626" text-anchor="middle">90</text>
<text x="345.59" y="224.40" font-family="Liberation Sans, Arial, sans-serif" stroke="#262626" stroke-width="0.12" font-size="6.2" fill="#262626" text-anchor="middle">100</text>
<text x="380.95" y="224.40" font-family="Liberation Sans, Arial, sans-serif" stroke="#262626" stroke-width="0.12" font-size="6.2" fill="#262626" text-anchor="middle">110</text>
<text x="413.23" y="224.40" font-family="Liberation Sans, Arial, sans-serif" stroke="#262626" stroke-width="0.12" font-size="6.2" fill="#262626" text-anchor="middle">120</text>
<text x="442.93" y="224.40" font-family="Liberation Sans, Arial, sans-serif" stroke="#262626" stroke-width="0.12" font-size="6.2" fill="#262626" text-anchor="middle">130</text>
<text x="470.42" y="224.40" font-family="Liberation Sans, Arial, sans-serif" stroke="#262626" stroke-width="0.12" font-size="6.2" fill="#262626" text-anchor="middle">140</text>
<text x="496.02" y="224.40" font-family="Liberation Sans, Arial, sans-serif" stroke="#262626" stroke-width="0.12" font-size="6.2" fill="#262626" text-anchor="middle">150</text>
<text x="519.96" y="224.40" font-family="Liberation Sans, Arial, sans-serif" stroke="#262626" stroke-width="0.12" font-size="6.2" fill="#262626" text-anchor="middle">160</text>
<text x="411.1" y="234.5" font-family="Liberation Sans, Arial, sans-serif" stroke="#262626" stroke-width="0.12" font-size="7" fill="#262626" text-anchor="middle">Frequency[p.u]</text>
<text x="278.0" y="178.35" font-family="Liberation Sans, Arial, sans-serif" stroke="#262626" stroke-width="0.12" font-size="6.7" fill="#262626" text-anchor="middle" transform="rotate(-90 278.0 178.35)">angle[degree]</text>
<rect x="452.4" y="123.5" width="87.60" height="20.80" fill="#fff" stroke="#a0a0a0" stroke-width="0.8"/>
<line x1="456.8" y1="128.40" x2="474.3" y2="128.40" stroke="#ff6060" stroke-width="1.1"/>
<path d="M461.8 138.80h6.4M465.0 135.60v6.4" stroke="#2020ff" stroke-width="1.1" fill="none"/>
<text x="482.2" y="130.30" font-family="Liberation Sans, Arial, sans-serif" font-size="5.5" fill="#262626">Phase - Measurement</text>
<text x="482.2" y="140.50" font-family="Liberation Sans, Arial, sans-serif" font-size="5.5" fill="#262626">Phase - Conventional</text>
</svg>
</body></html>
